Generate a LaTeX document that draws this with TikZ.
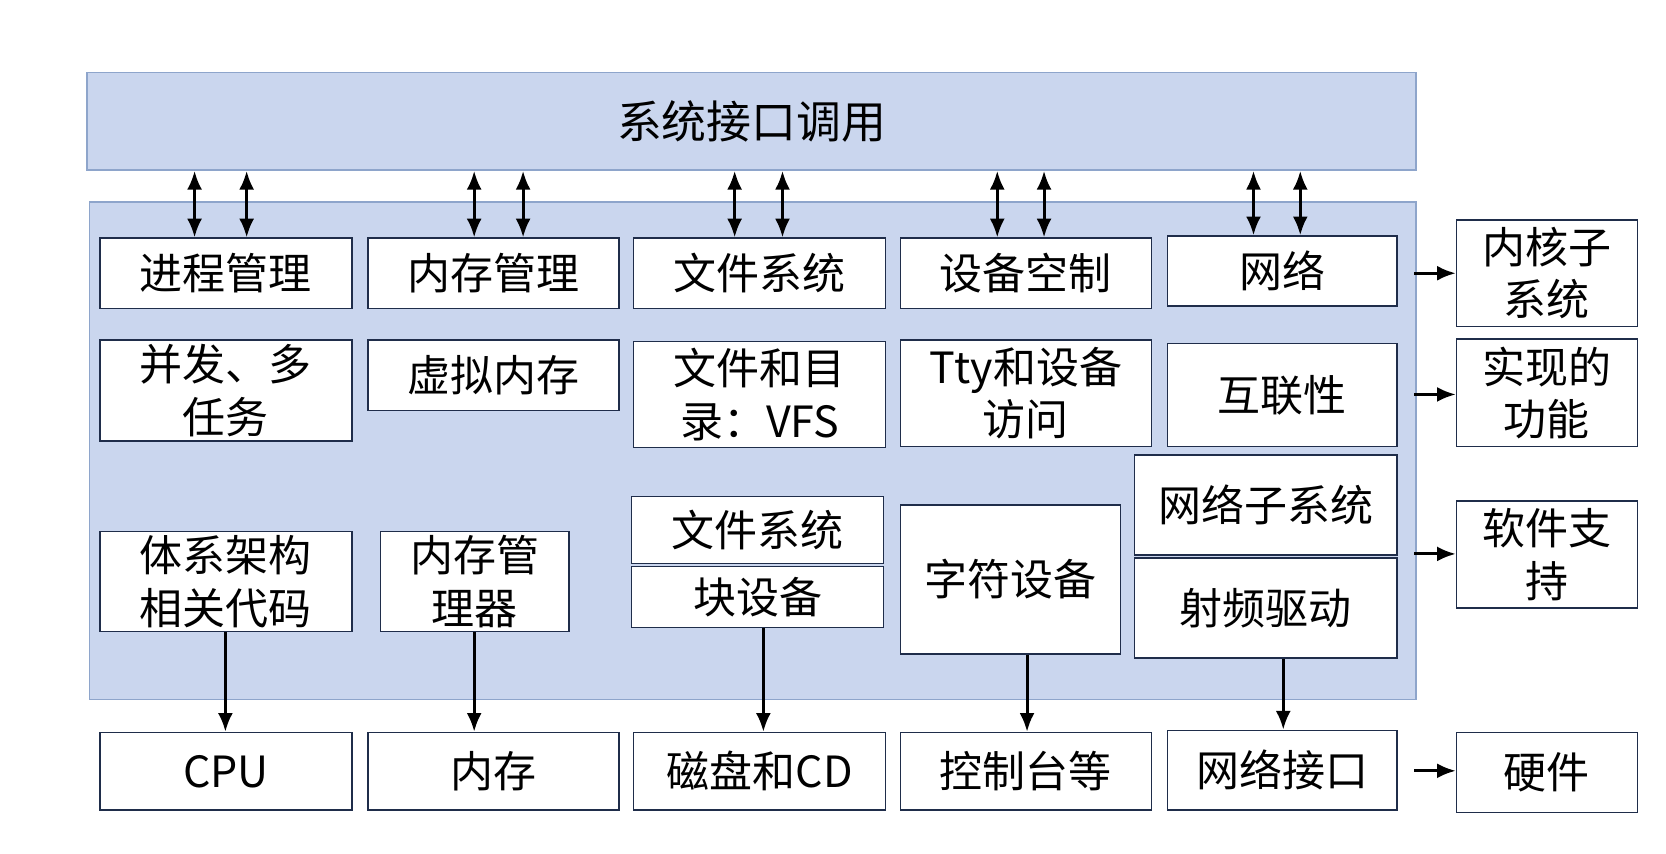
\documentclass[tikz,border=0pt]{standalone}
\usepackage{fontspec}
\setmainfont{Noto Sans CJK SC}
\usetikzlibrary{fit,arrows.meta}
\definecolor{panel}{HTML}{CAD6EE}
\definecolor{panelline}{HTML}{8EA5CB}
\definecolor{boxline}{HTML}{1F2D4A}
\tikzset{
  box/.style={draw=boxline,fill=white,inner sep=0pt},
  txt/.style={align=center,inner sep=0pt,font=\fontsize{11.5}{14}\selectfont},
  sub/.style={draw=panelline,fill=panel,inner sep=0pt},
  arr/.style={-{Latex[length=5pt,width=4pt]},thick},
  dbl/.style={{Latex[length=5pt,width=4pt]}-{Latex[length=5pt,width=4pt]},thick}
}
\newcommand\blk[4]{%
  \node[box,fit={#2 #3}] (#1) {};
  \node[txt] at (#1.center) {#4};}
\begin{document}
\begin{tikzpicture}[x=0.01cm,y=-0.01cm]
  \useasboundingbox (0,0) rectangle (1567,803);
  % panels
  \node[sub,fit={(82,68) (1332,160)}] (sys) {};
  \node[txt,font=\fontsize{12}{14}\selectfont] at (sys.center) {系统接口调用};
  \node[sub,fit={(84,190) (1332,658)}] (kern) {};
  % row 1
  \blk{proc}{(94,224)}{(331,290)}{进程管理}
  \blk{mem}{(346,224)}{(582,290)}{内存管理}
  \blk{fs}{(596,224)}{(833,290)}{文件系统}
  \blk{dev}{(847,224)}{(1083,290)}{设备空制}
  \blk{net}{(1098,222)}{(1314,288)}{网络}
  % row 2
  \blk{multi}{(94,320)}{(331,415)}{并发、多\\任务}
  \blk{vmem}{(346,320)}{(582,386)}{虚拟内存}
  \blk{vfs}{(596,321)}{(833,421)}{文件和目\\录：VFS}
  \blk{tty}{(847,320)}{(1083,420)}{Tty和设备\\访问}
  \blk{conn}{(1098,323)}{(1314,420)}{互联性}
  % row 3
  \blk{arch}{(94,500)}{(331,594)}{体系架构\\相关代码}
  \blk{mmgr}{(358,500)}{(535,594)}{内存管\\理器}
  \blk{fsys}{(594,467)}{(831,530)}{文件系统}
  \blk{blkd}{(594,533)}{(831,590)}{块设备}
  \blk{chr}{(847,475)}{(1054,615)}{字符设备}
  \blk{nsub}{(1067,428)}{(1314,522)}{网络子系统}
  \blk{rf}{(1067,525)}{(1314,619)}{射频驱动}
  % hardware
  \blk{cpu}{(94,689)}{(331,762)}{CPU}
  \blk{ram}{(346,689)}{(582,762)}{内存}
  \blk{disk}{(596,689)}{(833,762)}{磁盘和CD}
  \blk{cons}{(847,689)}{(1083,762)}{控制台等}
  \blk{nif}{(1098,687)}{(1314,762)}{网络接口}
  % legend
  \blk{lsub}{(1370,207)}{(1540,307)}{内核子\\系统}
  \blk{lfun}{(1370,319)}{(1540,420)}{实现的\\功能}
  \blk{lsw}{(1370,471)}{(1540,572)}{软件支\\持}
  \blk{lhw}{(1370,689)}{(1540,764)}{硬件}
  % arrows
  \foreach \x/\n in {183/proc,232/proc,446/mem,492/mem,691/fs,736/fs,938/dev,982/dev,1179/net,1223/net} {
    \path (\x,0) coordinate (t);
    \draw[dbl] (sys.south -| t) -- (\n.north -| t);
  }
  \foreach \x/\a/\b in {212/arch/cpu,446/mmgr/ram,718/blkd/disk,966/chr/cons,1207/rf/nif} {
    \path (\x,0) coordinate (t);
    \draw[arr] (\a.south -| t) -- (\b.north -| t);
  }
  \foreach \y/\n in {257/lsub,371/lfun,521/lsw,725/lhw} {
    \path (1330,\y) coordinate (s);
    \draw[arr] (s) -- (\n.west |- s);
  }
\end{tikzpicture}
\end{document}
